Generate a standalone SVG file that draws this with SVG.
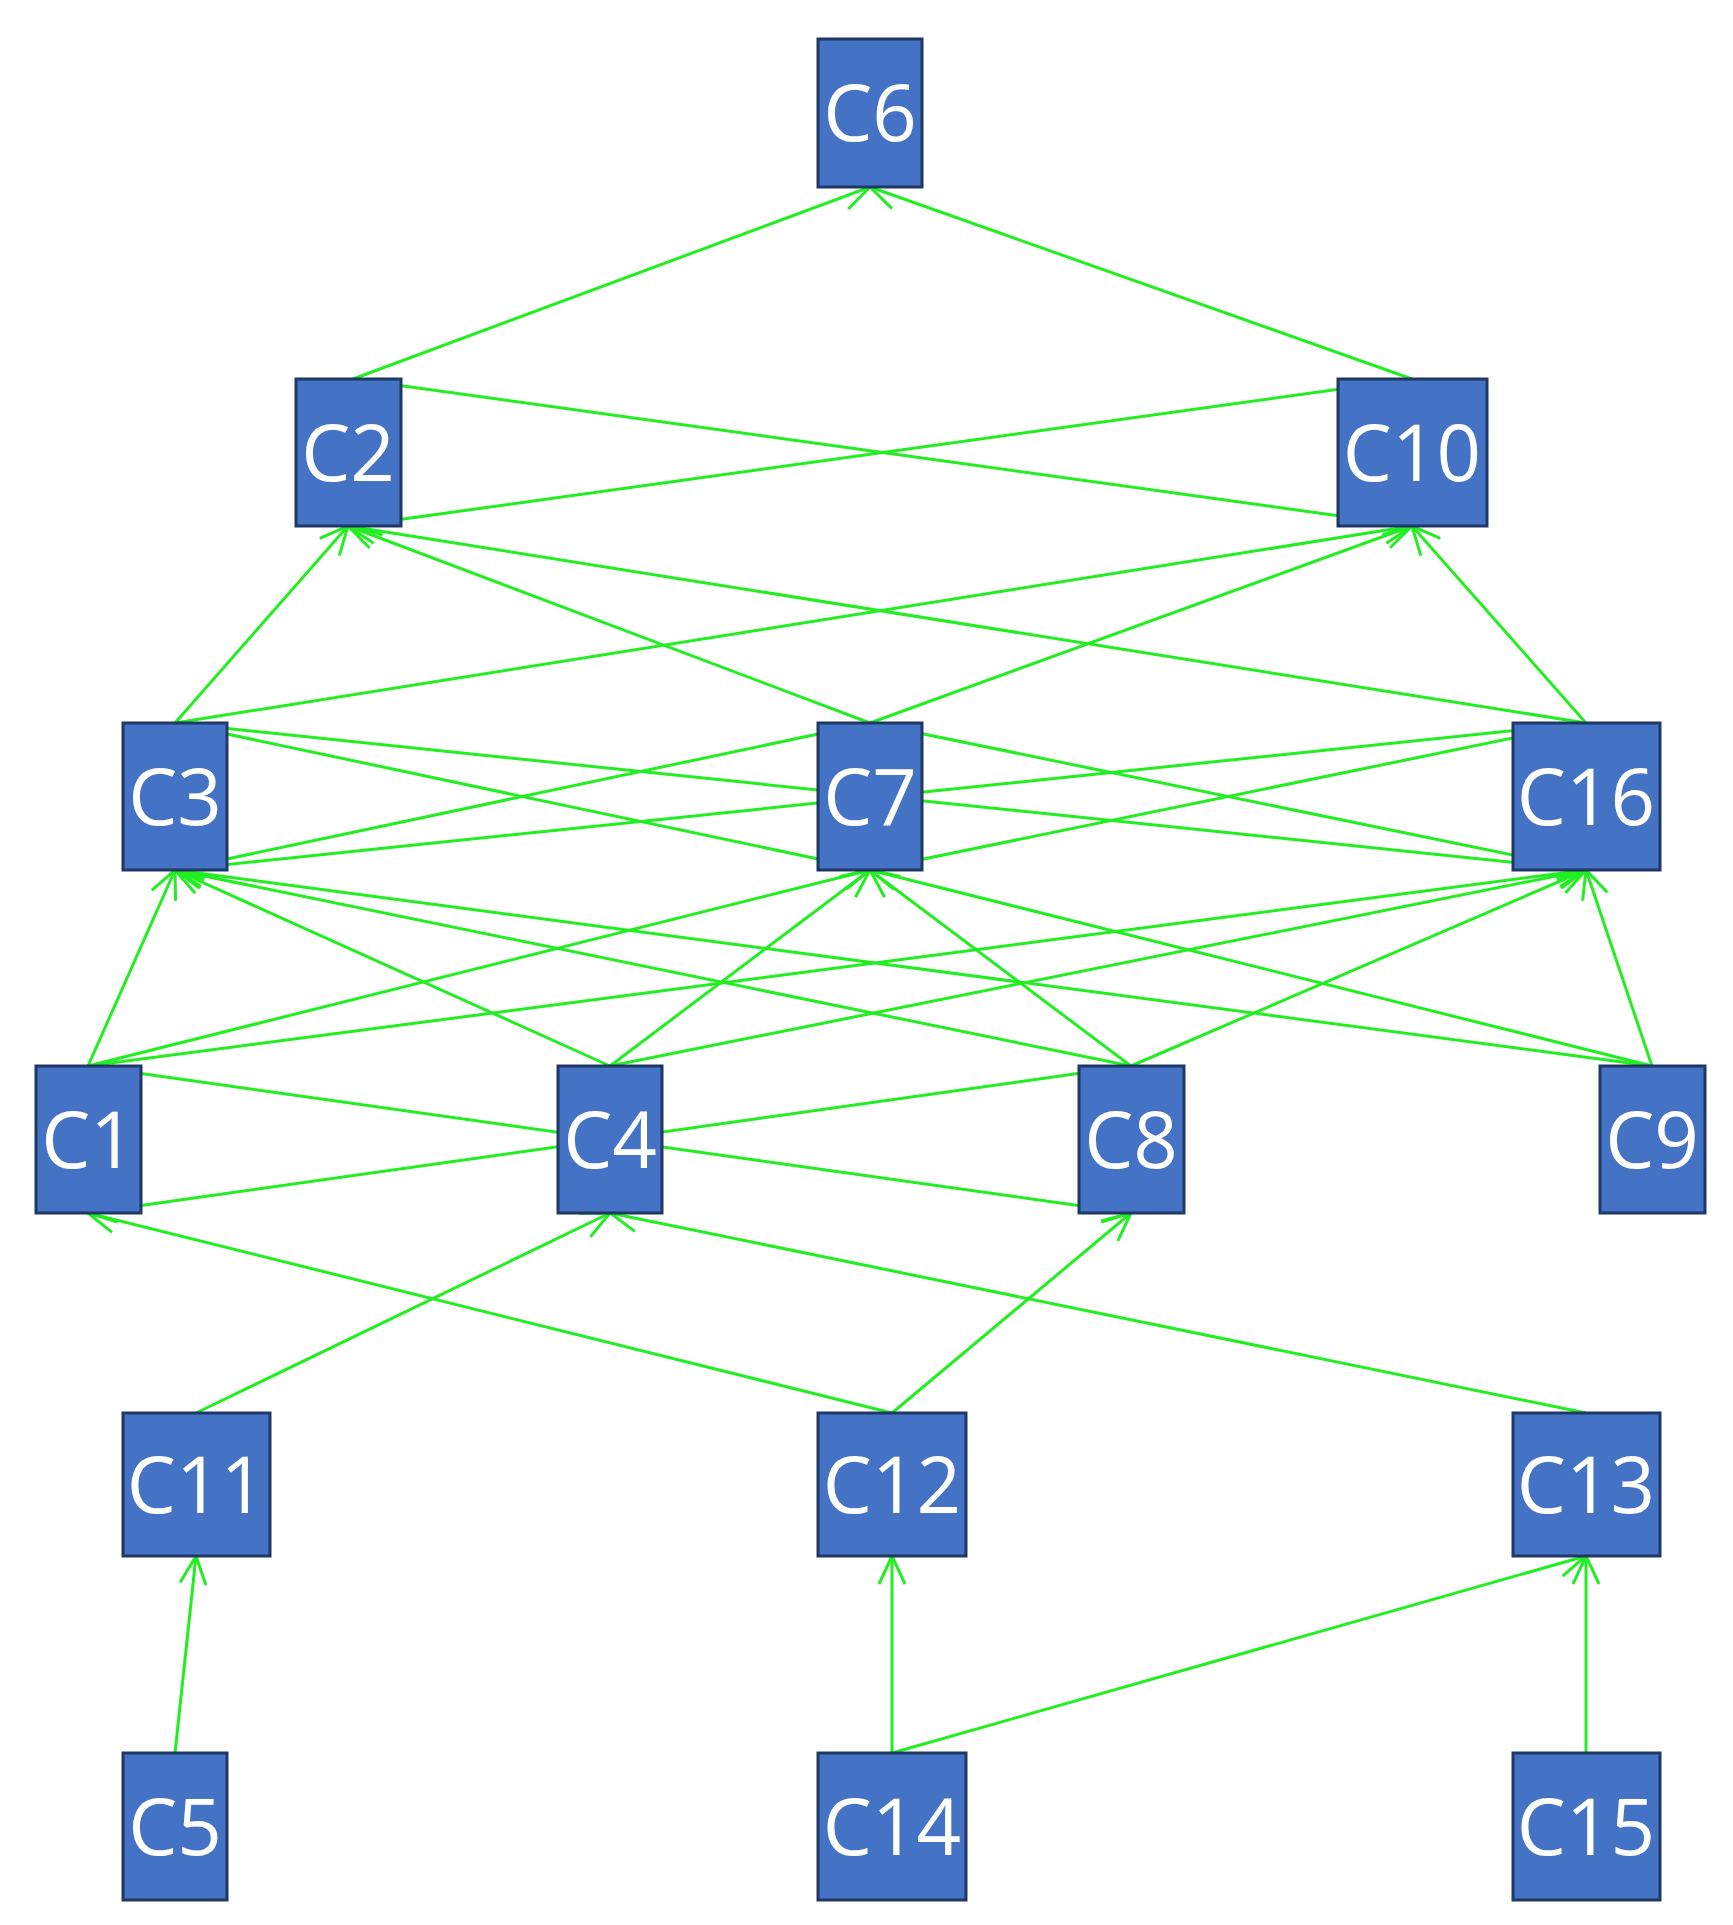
<svg xmlns="http://www.w3.org/2000/svg" width="1733" height="1925" viewBox="0 0 1733 1925">
<style>
.n rect{fill:#4472C4;stroke:#1F3864;stroke-width:3}
.n text{fill:#fff;font-family:"Open Sans","Liberation Sans",sans-serif;font-size:78px;text-anchor:middle}
.e line{stroke:#22EE22;stroke-width:3;marker-end:url(#a)}
</style>
<defs>
<marker id="a" markerUnits="userSpaceOnUse" markerWidth="40" markerHeight="40" refX="30" refY="15" orient="auto" viewBox="0 0 40 30">
<path d="M2,2 L30,15 L2,28" fill="none" stroke="#22EE22" stroke-width="3"/>
</marker>
</defs>
<g class="e">
<line x1="353" y1="379" x2="870" y2="187"/>
<line x1="1412" y1="379" x2="870" y2="187"/>
<line x1="353" y1="379" x2="1412" y2="526"/>
<line x1="1412" y1="379" x2="353" y2="526"/>
<line x1="175" y1="723" x2="348" y2="526"/>
<line x1="175" y1="723" x2="1412" y2="526"/>
<line x1="870" y1="723" x2="348" y2="526"/>
<line x1="870" y1="723" x2="1412" y2="526"/>
<line x1="1586" y1="723" x2="1412" y2="526"/>
<line x1="1586" y1="723" x2="348" y2="526"/>
<line x1="175" y1="723" x2="870" y2="870"/>
<line x1="175" y1="723" x2="1586" y2="870"/>
<line x1="870" y1="723" x2="175" y2="870"/>
<line x1="870" y1="723" x2="1586" y2="870"/>
<line x1="1586" y1="723" x2="175" y2="870"/>
<line x1="1586" y1="723" x2="870" y2="870"/>
<line x1="88" y1="1066" x2="175" y2="870"/>
<line x1="88" y1="1066" x2="870" y2="870"/>
<line x1="88" y1="1066" x2="1586" y2="870"/>
<line x1="88" y1="1066" x2="1131" y2="1213"/>
<line x1="610" y1="1066" x2="175" y2="870"/>
<line x1="610" y1="1066" x2="870" y2="870"/>
<line x1="610" y1="1066" x2="1586" y2="870"/>
<line x1="1131" y1="1066" x2="175" y2="870"/>
<line x1="1131" y1="1066" x2="870" y2="870"/>
<line x1="1131" y1="1066" x2="1586" y2="870"/>
<line x1="1131" y1="1066" x2="88" y2="1213"/>
<line x1="1652" y1="1066" x2="175" y2="870"/>
<line x1="1652" y1="1066" x2="870" y2="870"/>
<line x1="1652" y1="1066" x2="1586" y2="870"/>
<line x1="196" y1="1413" x2="610" y2="1213"/>
<line x1="892" y1="1413" x2="88" y2="1213"/>
<line x1="892" y1="1413" x2="1131" y2="1213"/>
<line x1="1586" y1="1413" x2="610" y2="1213"/>
<line x1="175" y1="1753" x2="196" y2="1556"/>
<line x1="892" y1="1753" x2="892" y2="1556"/>
<line x1="892" y1="1753" x2="1586" y2="1556"/>
<line x1="1586" y1="1753" x2="1586" y2="1556"/>
</g>
<g id="C6" class="n"><rect x="818" y="39" width="104" height="148"/><text x="870" y="141">C6</text></g>
<g id="C2" class="n"><rect x="296" y="379" width="105" height="147"/><text x="348" y="481">C2</text></g>
<g id="C10" class="n"><rect x="1338" y="379" width="149" height="147"/><text x="1412" y="481">C10</text></g>
<g id="C3" class="n"><rect x="123" y="723" width="104" height="147"/><text x="175" y="825">C3</text></g>
<g id="C7" class="n"><rect x="818" y="723" width="104" height="147"/><text x="870" y="825">C7</text></g>
<g id="C16" class="n"><rect x="1513" y="723" width="147" height="147"/><text x="1586" y="825">C16</text></g>
<g id="C1" class="n"><rect x="36" y="1066" width="105" height="147"/><text x="88" y="1168">C1</text></g>
<g id="C4" class="n"><rect x="558" y="1066" width="104" height="147"/><text x="610" y="1168">C4</text></g>
<g id="C8" class="n"><rect x="1079" y="1066" width="105" height="147"/><text x="1131" y="1168">C8</text></g>
<g id="C9" class="n"><rect x="1600" y="1066" width="105" height="147"/><text x="1652" y="1168">C9</text></g>
<g id="C11" class="n"><rect x="123" y="1413" width="147" height="143"/><text x="196" y="1513">C11</text></g>
<g id="C12" class="n"><rect x="818" y="1413" width="148" height="143"/><text x="892" y="1513">C12</text></g>
<g id="C13" class="n"><rect x="1513" y="1413" width="147" height="143"/><text x="1586" y="1513">C13</text></g>
<g id="C5" class="n"><rect x="123" y="1753" width="104" height="147"/><text x="175" y="1855">C5</text></g>
<g id="C14" class="n"><rect x="818" y="1753" width="148" height="147"/><text x="892" y="1855">C14</text></g>
<g id="C15" class="n"><rect x="1513" y="1753" width="147" height="147"/><text x="1586" y="1855">C15</text></g>
</svg>
